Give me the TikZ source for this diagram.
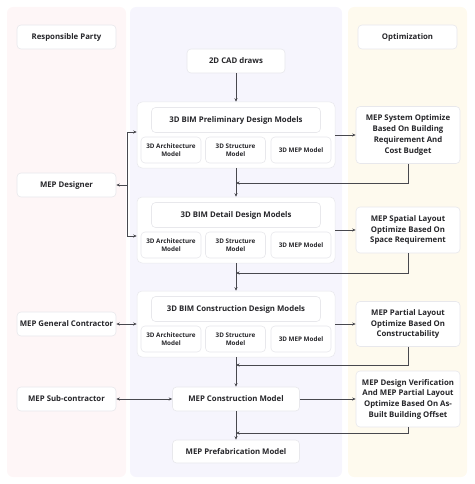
\documentclass[tikz,border=0pt]{standalone}
\usepackage{fontspec}
\setmainfont{Open Sans}
\usetikzlibrary{positioning,arrows.meta}
\definecolor{partyBg}{RGB}{254,246,247}
\definecolor{flowBg}{RGB}{246,245,253}
\definecolor{optBg}{RGB}{254,250,238}
\definecolor{boxLine}{RGB}{232,232,236}
\definecolor{flowLine}{RGB}{72,72,78}
\definecolor{textDark}{RGB}{38,38,42}

\begin{document}
\begin{tikzpicture}[x=1pt,y=-1pt,
    box/.style={draw=boxLine,fill=white,rounded corners=4pt,line width=0.6pt,
      text=textDark,font=\bfseries\fontsize{7.8}{10.7}\selectfont,align=center,
      inner sep=0pt,minimum height=24pt},
    subbox/.style={box,font=\bfseries\fontsize{6.3}{8}\selectfont,
      minimum width=60pt,minimum height=26pt},
    group/.style={draw=boxLine,fill=white,rounded corners=5pt,line width=0.5pt,
      minimum width=198pt,minimum height=66pt,inner sep=0pt},
    arr/.style={flowLine,line width=0.6pt,-{Stealth[length=3.5pt,width=3pt]}},
    both/.style={flowLine,line width=0.6pt,{Stealth[length=3.5pt,width=3pt]}-{Stealth[length=3.5pt,width=3pt]}}]
    \useasboundingbox (0,0) rectangle (474,484);
    % column backgrounds
    \fill[partyBg,rounded corners=6pt] (7,7) rectangle (126,477);
    \fill[flowBg,rounded corners=6pt] (130,7) rectangle (342,477);
    \fill[optBg,rounded corners=6pt] (348,7) rectangle (467,477);

    \node[box,minimum width=99pt] (party) at (66.5,37) {Responsible Party};
    \node[box,minimum width=99pt] (optim) at (407.5,37) {Optimization};
    \node[box,minimum width=98pt] (cad) at (236,61) {2D CAD draws};

    % BIM model stages
    \foreach \g/\y/\stage in {1/135/Preliminary,2/230/Detail,3/324/Construction} {
        \node[group] (g\g) at (236,\y) {};
        \node[box,minimum width=169pt,minimum height=25pt] (t\g) at (236,\y-15) {3D BIM \stage\ Design Models};
        \node[subbox] (a\g) at (171,\y+15) {3D Architecture\\Model};
        \node[subbox] (s\g) at (235.5,\y+15) {3D Structure\\Model};
        \node[subbox] (m\g) at (301,\y+15) {3D MEP Model};
    }
    \node[box,minimum width=127pt] (cons) at (236,399) {MEP Construction Model};
    \node[box,minimum width=127pt,minimum height=23pt] (prefab) at (236,451.5) {MEP Prefabrication Model};

    % optimization steps
    \node[box,minimum width=104pt,minimum height=57pt] (opt1) at (408,135) {MEP System Optimize\\Based On Building\\Requirement And\\Cost Budget};
    \node[box,minimum width=104pt,minimum height=46pt] (opt2) at (408,230) {MEP Spatial Layout\\Optimize Based On\\Space Requirement};
    \node[box,minimum width=104pt,minimum height=45pt] (opt3) at (408,324) {MEP Partial Layout\\Optimize Based On\\Constructability};
    \node[box,minimum width=104pt,minimum height=56pt] (opt4) at (408,399) {MEP Design Verification\\And MEP Partial Layout\\Optimize Based On As-\\Built Building Offset};

    % parties
    \node[box,minimum width=99pt] (designer) at (66.5,185) {MEP Designer};
    \node[box,minimum width=99pt] (gc) at (66.5,324) {MEP General Contractor};
    \node[box,minimum width=99pt] (sub) at (66.5,399) {MEP Sub-contractor};

    % main flow
    \coordinate (r1) at (236,183);
    \coordinate (r2) at (236,273);
    \coordinate (r3) at (236,365);
    \coordinate (r4) at (236,433);
    \draw[arr] (cad) -- (g1);
    \draw[arr] (g1) -- (g2);
    \draw[arr] (g2) -- (g3);
    \draw[arr] (g3) -- (cons);
    \draw[arr] (cons) -- (prefab);
    \draw[arr] (g1) -- (opt1);
    \draw[arr] (g2) -- (opt2);
    \draw[arr] (g3) -- (opt3);
    \draw[arr] (cons) -- (opt4);
    \draw[arr] (opt1.south) |- (r1);
    \draw[arr] (opt2.south) |- (r2);
    \draw[arr] (opt3.south) |- (r3);
    \draw[arr] (opt4.south) |- (r4);

    % party links
    \coordinate (fork) at (127,185);
    \draw[arr] (fork) -- (designer);
    \draw[arr] (fork) |- ([yshift=3pt]g1.west);
    \draw[arr] (fork) |- ([yshift=-6pt]g2.west);
    \draw[both] (gc) -- (g3);
    \draw[both] (sub) -- (cons);
\end{tikzpicture}
\end{document}
